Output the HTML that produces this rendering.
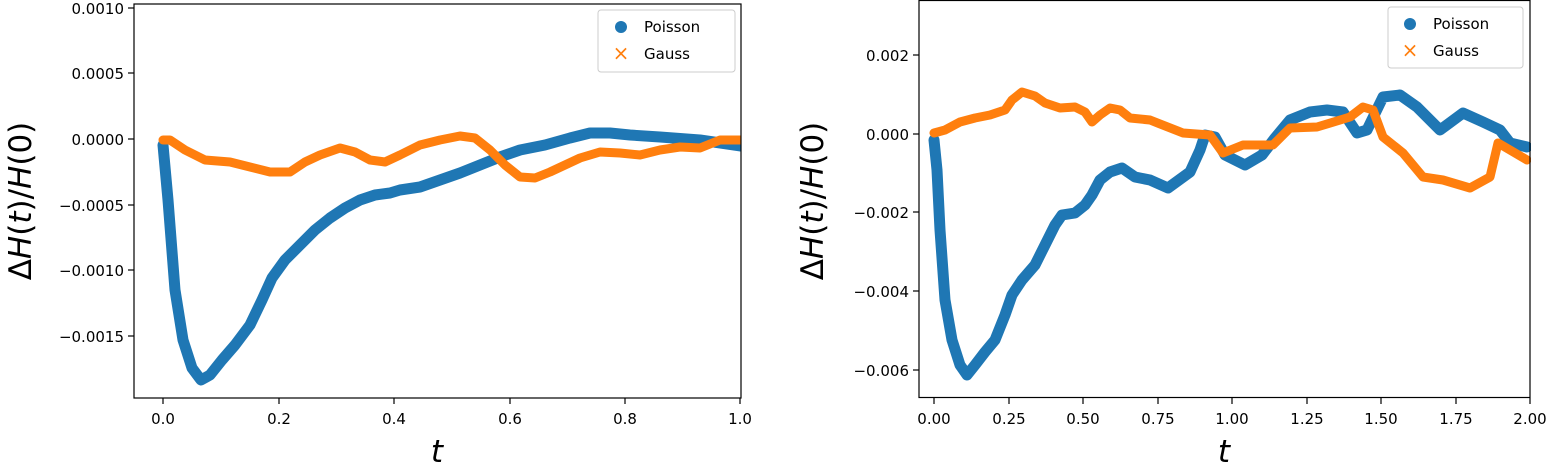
<!DOCTYPE html>
<html><head><meta charset="utf-8"><style>body{margin:0;background:#fff}svg{display:block}</style></head><body>
<svg width="1550" height="464" viewBox="0 0 1550 464" xmlns="http://www.w3.org/2000/svg" font-family="DejaVu Sans, Liberation Sans, sans-serif">
<rect width="1550" height="464" fill="#fff"/>
<g fill="none" stroke-linejoin="round" stroke-linecap="round">
<polyline stroke="#1f77b4" stroke-width="11" points="163,145 168,200 175,290 183,340 192,368 201,380 210,375 222,360 235,345 250,325 262,300 272,278 285,260 300,245 315,230 330,218 345,208 360,200 375,195 390,193 400,190 420,187 440,180 460,173 480,165 500,157 520,150 545,145 570,138 590,133 610,133 630,135 660,137 700,140 741,146"/>
<polyline stroke="#ff7f0e" stroke-width="9" points="163,140 170,140 185,150 205,160 230,162 250,167 270,172 290,172 305,162 320,155 340,148 355,152 370,160 385,162 400,155 420,145 440,140 460,136 475,138 490,150 505,165 520,177 535,178 550,172 565,165 580,158 600,152 620,153 640,155 660,150 680,147 700,148 720,140 741,140"/>
<polyline stroke="#1f77b4" stroke-width="11" points="934,140 937,170 940,230 945,300 952,340 960,365 967,375 975,365 985,352 995,340 1005,315 1012,295 1022,280 1035,265 1045,245 1055,225 1062,215 1075,213 1085,205 1092,195 1100,180 1110,172 1122,168 1135,177 1150,180 1168,188 1190,172 1200,150 1205,135 1215,137 1225,155 1245,165 1262,155 1275,138 1290,120 1310,112 1327,110 1343,112 1357,133 1367,130 1383,97 1400,95 1417,107 1440,130 1463,113 1483,122 1500,130 1510,143 1527,147"/>
<polyline stroke="#ff7f0e" stroke-width="9" points="934,133 945,130 960,122 975,118 990,115 1005,110 1012,100 1022,92 1035,96 1045,103 1060,108 1075,107 1085,112 1092,122 1100,115 1110,108 1120,110 1130,118 1150,120 1183,133 1210,135 1223,153 1243,145 1273,145 1290,128 1317,127 1350,117 1363,107 1373,110 1383,137 1403,153 1423,177 1443,180 1470,188 1490,177 1498,143 1510,150 1527,160"/>
</g>
<rect x="0" y="0" width="134" height="464" fill="#fff"/>
<rect x="741" y="0" width="178" height="464" fill="#fff"/>
<rect x="1531" y="0" width="19" height="464" fill="#fff"/>
<rect x="0" y="398" width="1550" height="66" fill="#fff"/>
<g fill="none" stroke="#000" stroke-width="1.2">
<rect x="134" y="4" width="607" height="394"/>
<rect x="919" y="0.5" width="611" height="397"/>
</g>
<g stroke="#000" stroke-width="1.2">
<line x1="128" y1="8" x2="134" y2="8"/><line x1="128" y1="73" x2="134" y2="73"/><line x1="128" y1="139" x2="134" y2="139"/><line x1="128" y1="205" x2="134" y2="205"/><line x1="128" y1="270" x2="134" y2="270"/><line x1="128" y1="336" x2="134" y2="336"/>
<line x1="163" y1="398" x2="163" y2="404"/><line x1="279" y1="398" x2="279" y2="404"/><line x1="394" y1="398" x2="394" y2="404"/><line x1="510" y1="398" x2="510" y2="404"/><line x1="625" y1="398" x2="625" y2="404"/><line x1="740" y1="398" x2="740" y2="404"/>
<line x1="913" y1="55" x2="919" y2="55"/><line x1="913" y1="134" x2="919" y2="134"/><line x1="913" y1="212" x2="919" y2="212"/><line x1="913" y1="291" x2="919" y2="291"/><line x1="913" y1="370" x2="919" y2="370"/>
<line x1="934" y1="398" x2="934" y2="404"/><line x1="1009" y1="398" x2="1009" y2="404"/><line x1="1083" y1="398" x2="1083" y2="404"/><line x1="1158" y1="398" x2="1158" y2="404"/><line x1="1232" y1="398" x2="1232" y2="404"/><line x1="1307" y1="398" x2="1307" y2="404"/><line x1="1381" y1="398" x2="1381" y2="404"/><line x1="1456" y1="398" x2="1456" y2="404"/><line x1="1530" y1="398" x2="1530" y2="404"/>
</g>
<g font-size="15" fill="#000" text-anchor="end">
<text x="124" y="14">0.0010</text><text x="124" y="79">0.0005</text><text x="124" y="145">0.0000</text><text x="124" y="211">−0.0005</text><text x="124" y="276">−0.0010</text><text x="124" y="342">−0.0015</text>
<text x="909" y="61">0.002</text><text x="909" y="140">0.000</text><text x="909" y="218">−0.002</text><text x="909" y="297">−0.004</text><text x="909" y="376">−0.006</text>
</g>
<g font-size="15" fill="#000" text-anchor="middle">
<text x="163" y="424">0.0</text><text x="279" y="424">0.2</text><text x="394" y="424">0.4</text><text x="510" y="424">0.6</text><text x="625" y="424">0.8</text><text x="740" y="424">1.0</text>
<text x="934" y="424">0.00</text><text x="1009" y="424">0.25</text><text x="1083" y="424">0.50</text><text x="1158" y="424">0.75</text><text x="1232" y="424">1.00</text><text x="1307" y="424">1.25</text><text x="1381" y="424">1.50</text><text x="1456" y="424">1.75</text><text x="1530" y="424">2.00</text>
</g>
<g font-size="31" fill="#000" text-anchor="middle">
<text x="437" y="462" font-style="italic">t</text>
<text x="1224" y="462" font-style="italic">t</text>
<text transform="translate(31,201) rotate(-90)">Δ<tspan font-style="italic">H</tspan>(<tspan font-style="italic">t</tspan>)/<tspan font-style="italic">H</tspan>(0)</text>
<text transform="translate(823,201) rotate(-90)">Δ<tspan font-style="italic">H</tspan>(<tspan font-style="italic">t</tspan>)/<tspan font-style="italic">H</tspan>(0)</text>
</g>
<g>
<rect x="598" y="10" width="137" height="62" rx="3" fill="#fff" stroke="#ccc"/>
<circle cx="621" cy="27" r="6" fill="#1f77b4"/>
<text x="644" y="32" font-size="15">Poisson</text>
<text x="621" y="60" font-size="20" fill="#ff7f0e" text-anchor="middle">×</text>
<text x="644" y="59" font-size="15">Gauss</text>
<rect x="1388" y="7" width="135" height="61" rx="3" fill="#fff" stroke="#ccc"/>
<circle cx="1410" cy="24" r="6" fill="#1f77b4"/>
<text x="1433" y="29" font-size="15">Poisson</text>
<text x="1410" y="57" font-size="20" fill="#ff7f0e" text-anchor="middle">×</text>
<text x="1433" y="56" font-size="15">Gauss</text>
</g>
</svg>
</body></html>
